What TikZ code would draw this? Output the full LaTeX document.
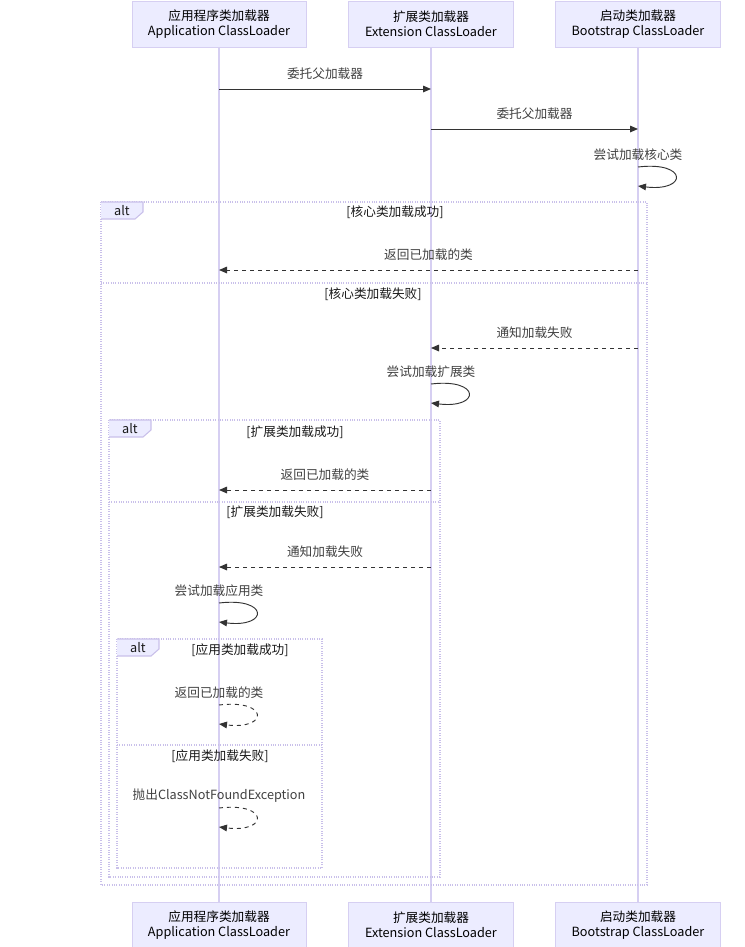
\documentclass[tikz,border=0pt]{standalone}
\usepackage{fontspec}
\setmainfont{Noto Sans CJK SC}
\usetikzlibrary{arrows.meta,positioning}
\definecolor{actfill}{HTML}{ECECFF}
\definecolor{actline}{HTML}{D6CFF2}
\definecolor{boxline}{HTML}{C9C0EA}
\tikzset{
  actor/.style={draw=actline,fill=actfill,minimum height=46*0.75pt,
    align=center,font=\fontsize{9.5}{11}\selectfont,inner sep=0pt},
  life/.style={draw=actline,line width=1.2pt},
  msg/.style={draw=black!80,line width=0.7pt,-{Triangle[length=6pt,width=5pt]}},
  ret/.style={msg,dashed},
  lbl/.style={font=\fontsize{9.5}{11}\selectfont,text=black!75,inner sep=1pt},
  cond/.style={lbl,text=black!90},
  frame/.style={draw=boxline,densely dotted,line width=0.8pt},
}
% message from lifeline #1 to lifeline #2 at height #3
\newcommand{\sendmsg}[6]{%
  \coordinate (#6s) at (#1,#3); \coordinate (#6e) at (#2,#3);
  \draw[#5] (#6s) -- (#6e);
  \node[lbl] (#6t) at ({(#1+#2)/2},#3-15) {#4};}
% self message on lifeline #1 at height #2
\newcommand{\selfmsg}[5]{%
  \coordinate (#5s) at (#1,#2+12); \coordinate (#5e) at (#1,#2+31);
  \draw[#4] (#5s) .. controls (#1+50,#2+6) and (#1+50,#2+37) .. (#5e);
  \node[lbl] (#5t) at (#1,#2) {#3};}
% alt frame
\newcommand{\altframe}[5]{%
  \draw[frame] (#1,#2) rectangle (#3,#4);
  \draw[frame,solid,draw=boxline,fill=actfill] (#1,#2) -- (#1+42,#2) -- (#1+42,#2+10) -- (#1+34,#2+17) -- (#1,#2+17);
  \node[cond] (#5) at (#1+21,#2+9) {alt};}
\begin{document}
\begin{tikzpicture}[x=0.75pt,y=-0.75pt]
  \useasboundingbox (0,0) rectangle (744,947);
  \def\xa{219} \def\xb{431} \def\xc{638}
  % lifelines and actors
  \foreach \x/\w/\n/\t in {\xa/174/app/{应用程序类加载器\\Application ClassLoader},
                        \xb/165/ext/{扩展类加载器\\Extension ClassLoader},
                        \xc/165/boot/{启动类加载器\\Bootstrap ClassLoader}} {
    \draw[life] (\x,48) -- (\x,902);
    \node[actor,minimum width=\w*0.75pt] (\n top) at (\x,24) {\t};
    \node[actor,minimum width=\w*0.75pt] (\n bot) at (\x,925) {\t};
  }
  % frames
  \altframe{101}{202}{647}{885}{f1}
  \node[cond] (c1) at (395,212) {[核心类加载成功]};
  \draw[frame] (101,283) -- (647,283);
  \node[cond] (c2) at (373,294) {[核心类加载失败]};
  \altframe{109}{420}{440}{877}{f2}
  \node[cond] (c3) at (295,432) {[扩展类加载成功]};
  \draw[frame] (109,502) -- (440,502);
  \node[cond] (c4) at (275,512) {[扩展类加载失败]};
  \altframe{117}{639}{322}{868}{f3}
  \node[cond] (c5) at (240,650) {[应用类加载成功]};
  \draw[frame] (117,745) -- (322,745);
  \node[cond] (c6) at (220,756) {[应用类加载失败]};
  % messages
  \sendmsg{\xa}{\xb}{89}{委托父加载器}{msg}{m1}
  \sendmsg{\xb}{\xc}{129}{委托父加载器}{msg}{m2}
  \selfmsg{\xc}{155}{尝试加载核心类}{msg}{s1}
  \sendmsg{\xc}{\xa}{270}{返回已加载的类}{ret}{m3}
  \sendmsg{\xc}{\xb}{348}{通知加载失败}{ret}{m4}
  \selfmsg{\xb}{372}{尝试加载扩展类}{msg}{s2}
  \sendmsg{\xb}{\xa}{490}{返回已加载的类}{ret}{m5}
  \sendmsg{\xb}{\xa}{567}{通知加载失败}{ret}{m6}
  \selfmsg{\xa}{591}{尝试加载应用类}{msg}{s3}
  \selfmsg{\xa}{693}{返回已加载的类}{ret}{s4}
  \selfmsg{\xa}{796}{抛出ClassNotFoundException}{ret}{s5}
\end{tikzpicture}
\end{document}
